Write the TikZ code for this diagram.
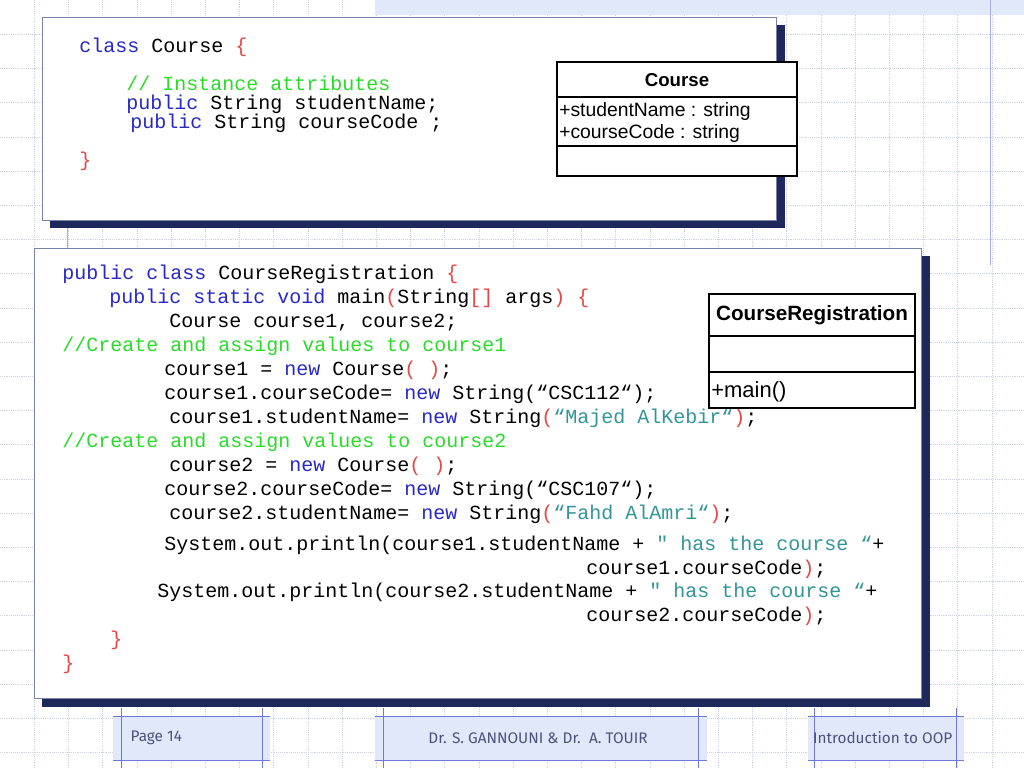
\documentclass[tikz,border=0pt]{standalone}
\usepackage{fontspec}
\setmainfont{Liberation Sans}
\setmonofont{Liberation Mono}
\newfontfamily\footfont{Fira Sans}
\usetikzlibrary{patterns}
\definecolor{kw}{RGB}{40,40,200}
\definecolor{cmt}{RGB}{40,220,40}
\definecolor{brc}{RGB}{230,70,70}
\definecolor{str}{RGB}{50,150,150}
\definecolor{navy}{RGB}{30,40,90}
\definecolor{grid}{RGB}{205,210,230}
\definecolor{frame}{RGB}{120,130,170}
\definecolor{foot}{RGB}{225,232,250}
\definecolor{footline}{RGB}{110,120,220}
\newcommand{\kw}[1]{\textcolor{kw}{#1}}
\newcommand{\cm}[1]{\textcolor{cmt}{#1}}
\newcommand{\br}[1]{\textcolor{brc}{#1}}
\newcommand{\stx}[1]{\textcolor{str}{#1}}
\begin{document}
\begin{tikzpicture}[x=0.75pt,y=-0.75pt,
  code/.style={anchor=base west,inner sep=0pt,font=\ttfamily\fontsize{15}{15}\selectfont},
  uml/.style={anchor=base west,inner sep=0pt,font=\fontsize{14.5}{15}\selectfont},
  foottxt/.style={font=\footfont\fontsize{11.5}{13}\selectfont,text=navy!80}]
\useasboundingbox (0,0) rectangle (1024,768);
\fill[white] (0,0) rectangle (1024,768);
\foreach \i in {1,...,30}{\draw[grid,densely dotted] (\i*34.2,0) -- (\i*34.2,768);}
\foreach \i in {1,...,22}{\draw[grid,densely dotted] (0,\i*34.2) -- (1024,\i*34.2);}
\fill[foot] (375,0) rectangle (1024,15);
\draw[footline!60] (990,0) -- (990,265);
\draw[footline!60] (67,228) -- (67,248);
% top box
\fill[navy] (50,25) rectangle (785,228);
\draw[frame,fill=white] (42,17) rectangle (776,220);
\node[code] (c1) at (79,52) {\kw{class} Course \br{\{}};
\node[code] (c2) at (126,90) {\cm{// Instance attributes}};
\node[code] (c3) at (126,109) {\kw{public} String studentName;};
\node[code] (c4) at (130,128) {\kw{public} String courseCode ;};
\node[code] (c5) at (79,166) {\br{\}}};
% UML Course
\draw[thick,fill=white] (557,62) rectangle (797,176);
\draw[thick] (557,97) -- (797,97) (557,146) -- (797,146);
\node[font=\bfseries\fontsize{14}{15}\selectfont] (ch) at (677,80) {Course};
\node[uml] (ca1) at (559,116) {+studentName : string};
\node[uml] (ca2) at (559,138) {+courseCode : string};
% bottom box
\fill[navy] (42,256) rectangle (930,707);
\draw[frame,fill=white] (34,248) rectangle (921,698);
\node[code] (d1) at (62,279) {\kw{public class} CourseRegistration \br{\{}};
\node[code] (d2) at (109,303) {\kw{public static void} main\br{(}String\br{[]} args\br{)} \br{\{}};
\node[code] (d3) at (169,327) {Course course1, course2;};
\node[code] (d4) at (62,351) {\cm{//Create and assign values to course1}};
\node[code] (d5) at (164,375) {course1 = \kw{new} Course\br{( )};};
\node[code] (d6) at (164,399) {course1.courseCode= \kw{new} String(“CSC112“);};
\node[code] (d7) at (169,423) {course1.studentName= \kw{new} String\br{(}\stx{“Majed AlKebir“}\br{)};};
\node[code] (d8) at (62,447) {\cm{//Create and assign values to course2}};
\node[code] (d9) at (169,471) {course2 = \kw{new} Course\br{( )};};
\node[code] (d10) at (164,495) {course2.courseCode= \kw{new} String(“CSC107“);};
\node[code] (d11) at (169,519) {course2.studentName= \kw{new} String\br{(}\stx{“Fahd AlAmri“}\br{)};};
\node[code] (d12) at (164,550) {System.out.println(course1.studentName + \stx{" has the course “}+};
\node[code] (d13) at (586,574) {course1.courseCode\br{)};};
\node[code] (d14) at (157,597) {System.out.println(course2.studentName + \stx{" has the course “}+};
\node[code] (d15) at (586,621) {course2.courseCode\br{)};};
\node[code] (d16) at (110,645) {\br{\}}};
\node[code] (d17) at (62,669) {\br{\}}};
% UML CourseRegistration
\draw[thick,fill=white] (709,294) rectangle (915,408);
\draw[thick] (709,336) -- (915,336) (709,372) -- (915,372);
\node[font=\bfseries\fontsize{15.5}{18}\selectfont] (rh) at (812,315) {CourseRegistration};
\node[anchor=base west,inner sep=0pt,font=\fontsize{16.5}{18}\selectfont] (rm) at (711,397) {+main()};
% footer
\fill[foot] (113,716) rectangle (270,760);
\fill[foot] (375,716) rectangle (707,760);
\fill[foot] (808,716) rectangle (964,760);
\draw[footline] (113,716) -- (270,716) (113,760) -- (270,760) (121,708) -- (121,768) (262,708) -- (262,768);
\draw[footline] (375,716) -- (707,716) (375,760) -- (707,760) (383,708) -- (383,768) (698,708) -- (698,768);
\draw[footline] (808,716) -- (964,716) (808,760) -- (964,760) (814,708) -- (814,768) (956,708) -- (956,768);
\node[foottxt,anchor=west] (f1) at (126,738) {Page 14};
\node[foottxt] (f2) at (538,738) {Dr. S. GANNOUNI \& Dr.\ \ A. TOUIR};
\node[foottxt,anchor=east] (f3) at (957,738) {Introduction to OOP};
\end{tikzpicture}
\end{document}
